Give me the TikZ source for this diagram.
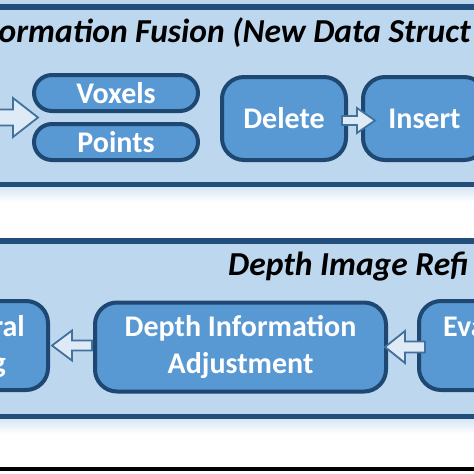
\documentclass[tikz,border=0pt]{standalone}
\usepackage{fontspec}
\setmainfont{Carlito}
\usetikzlibrary{calc}
\definecolor{panelfill}{RGB}{189,215,238}
\definecolor{navy}{RGB}{33,78,122}
\definecolor{boxfill}{RGB}{88,152,211}
\definecolor{boxline}{RGB}{30,72,114}
\definecolor{arrowfill}{RGB}{222,235,247}
\definecolor{arrowline}{RGB}{65,113,156}
\definecolor{glow}{RGB}{214,228,244}
\begin{document}
\begin{tikzpicture}[x=1pt,y=-1pt,
  panel/.style={fill=panelfill,draw=navy,line width=5.5pt},
  box/.style={fill=boxfill,draw=boxline,line width=4pt,rounded corners=22pt,inner sep=0pt,
    text=white,align=center,font=\bfseries\fontsize{30}{37}\selectfont},
  pill/.style={box,rounded corners=18pt},
  boxtext/.style={text=white,inner sep=0pt,font=\bfseries\fontsize{30}{37}\selectfont},
  titletext/.style={text=black,inner sep=0pt,font=\bfseries\itshape\fontsize{33.5}{40}\selectfont},
  blockarrow/.style={fill=arrowfill,draw=arrowline,line width=1.8pt,line join=miter}]
\useasboundingbox (0,0) rectangle (474,474);
\clip (0,0) rectangle (474,474);
\fill[white] (0,0) rectangle (474,474);
% strip above top panel
\fill[panelfill] (0,0) rectangle (474,6);
% glows under panels
\shade[top color=glow,bottom color=white] (-5,186) rectangle (480,202);
\shade[top color=glow,bottom color=white] (-5,418) rectangle (480,434);
% panels
\draw[panel] (-20,6.75) rectangle (494,184.25);
\draw[panel] (-20,240.75) rectangle (494,416.25);
% bottom black line
\fill[black] (-5,466.5) rectangle (480,471);
% titles
\node[titletext,anchor=base east] (t1) at (471,42) {ormation Fusion (New Data Struct};
\node[titletext,anchor=base west] (t2) at (228,275) {Depth Image Refi};
% top row
\node[pill,minimum width=164pt,minimum height=36pt] (voxels) at (116,93) {Voxels};
\node[pill,minimum width=164pt,minimum height=36pt] (points) at (116,142) {Points};
\node[box,minimum width=124pt,minimum height=83pt] (delete) at (284,118.5) {Delete};
\node[box,minimum width=123pt,minimum height=83pt] (insert) at (424.5,118.5) {Insert};
% bottom row
\node[box,minimum width=88pt,minimum height=89pt] (leftbox) at (4,345.5) {};
\node[boxtext,anchor=base east] (lefta) at (25,336) {ral};
\node[boxtext,anchor=base east] (leftb) at (6,372) {g};
\node[box,minimum width=291pt,minimum height=89pt] (depth) at (240.5,347) {Depth Information\\Adjustment};
\node[box,minimum width=121pt,minimum height=89pt] (eva) at (479.5,345.5) {};
\node[boxtext,anchor=base west] (evatext) at (443,336) {Evaluation};
% block arrows
\coordinate (inmid) at ($(voxels.west)!0.5!(points.west)$);
\draw[blockarrow,shift={(inmid)}] (-45,-8) -- (-19,-8) -- (-19,-19.5) -- (6,0) -- (-19,19.5) -- (-19,8) -- (-45,8) -- cycle;
\draw[blockarrow,shift={($(delete.east)+(0,2)$)}] (-6,-4.5) -- (9,-4.5) -- (9,-12.5) -- (27,0) -- (9,12.5) -- (9,4.5) -- (-6,4.5) -- cycle;
\draw[blockarrow,shift={(depth.east)}] (-3,0) -- (17,-16) -- (17,-5.5) -- (37,-5.5) -- (37,5.5) -- (17,5.5) -- (17,16) -- cycle;
\draw[blockarrow,shift={(leftbox.east)}] (2,0) -- (22,-15) -- (22,-5) -- (42,-5) -- (42,5) -- (22,5) -- (22,15) -- cycle;
\end{tikzpicture}
\end{document}
